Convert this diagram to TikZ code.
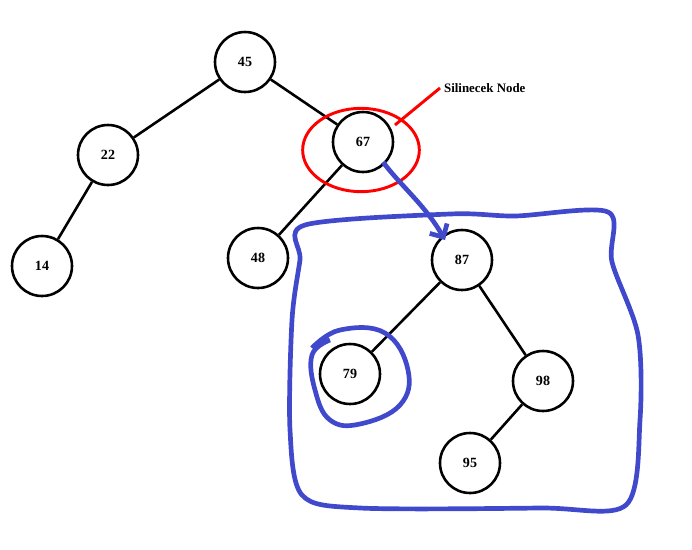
\documentclass[tikz,border=0pt]{standalone}
\usepackage{fontspec}
\setmainfont{Liberation Serif}
\usetikzlibrary{arrows.meta,shapes.geometric}
\definecolor{penblue}{RGB}{64,72,204}
\begin{document}
\begin{tikzpicture}[x=0.03cm,y=-0.03cm,
    tnode/.style={circle,draw,line width=2.2pt,minimum size=1.8cm,font=\bfseries\fontsize{12}{14}\selectfont}]
    \useasboundingbox (0,0) rectangle (692,549);
    % Tree nodes
    \node[tnode] (n45) at (245,62) {45};
    \node[tnode] (n22) at (108,155) {22};
    \node[tnode] (n14) at (42,266) {14};
    \node[tnode] (n67) at (363,142) {67};
    \node[tnode] (n48) at (258,258) {48};
    \node[tnode] (n87) at (462,260) {87};
    \node[tnode] (n79) at (350,374) {79};
    \node[tnode] (n98) at (543,381) {98};
    \node[tnode] (n95) at (470,463) {95};
    % Edges
    \draw[line width=2.2pt] (n45) -- (n22);
    \draw[line width=2.2pt] (n45) -- (n67);
    \draw[line width=2.2pt] (n22) -- (n14);
    \draw[line width=2.2pt] (n67) -- (n48);
    \draw[line width=2.2pt] (n87) -- (n79);
    \draw[line width=2.2pt] (n87) -- (n98);
    \draw[line width=2.2pt] (n98) -- (n95);
    % Marked node
    \node[ellipse,draw=red,line width=2.5pt,minimum width=3.5cm,minimum height=2.5cm] (mark) at (361,150) {};
    \node[font=\bfseries\fontsize{11}{13}\selectfont,anchor=west] (lbl) at (440,88) {Silinecek Node};
    \coordinate (tick) at (395,125);
    \draw[red,line width=2.5pt] (tick) -- (lbl.west);
    % Subtree
    \coordinate (from) at (383,162);
    \coordinate (to) at (445,240);
    \draw[penblue,line width=4pt,-{Straight Barb[length=3mm]}] (from) .. controls (400,185) and (425,205) .. (to);
    \draw[penblue,line width=4pt,line join=round] plot[smooth cycle,tension=0.5] coordinates
      {(305,225) (450,214) (515,216) (608,212) (612,262) (638,335) (640,420) (626,505)
       (540,508) (360,508) (302,495) (290,430) (292,320) (300,260)};
    \draw[penblue,line width=4pt] plot[smooth,tension=0.7] coordinates
      {(312,348) (340,330) (385,333) (408,370) (400,405) (360,424) (330,420) (315,390) (312,355) (330,340)};
\end{tikzpicture}
\end{document}
